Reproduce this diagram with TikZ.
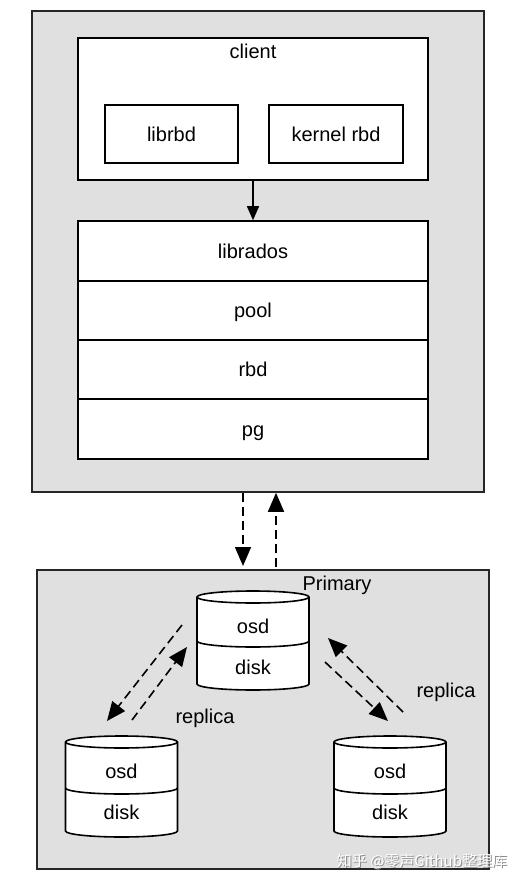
\documentclass[tikz,border=0pt]{standalone}
\usepackage{fontspec}
\setmainfont{Liberation Sans}
\newfontfamily\cjkfont{Noto Sans CJK SC}
\usetikzlibrary{arrows.meta}
\definecolor{boxgray}{HTML}{E0E0E0}
\newcommand\dbcylinder[4]{% cx, top centre y, divider centre y, bottom centre y
  \filldraw[cylline] (#1-56,#2) -- (#1-56,#4) arc[start angle=180,end angle=360,x radius=56pt,y radius=6pt]
     -- (#1+56,#2) arc[start angle=0,end angle=180,x radius=56pt,y radius=6pt] -- cycle;
  \draw[cylline] (#1-56,#2) arc[start angle=180,end angle=360,x radius=56pt,y radius=6pt];
  \draw[cylline] (#1-56,#3) arc[start angle=180,end angle=360,x radius=56pt,y radius=6pt];
}
\begin{document}
\begin{tikzpicture}[x=1pt,y=-1pt,
  every node/.style={font=\fontsize{20}{24}\selectfont, inner sep=0pt, text height=14.5pt, text depth=0.5pt},
  panel/.style={draw=black!85, line width=1.6pt, fill=boxgray},
  whitebox/.style={draw=black, line width=1.6pt, fill=white},
  cylline/.style={draw=black, line width=1.6pt, fill=white},
  solidarrow/.style={-{Triangle[length=14pt,width=12pt]}, line width=1.5pt},
  dasharrow/.style={dash pattern=on 9pt off 5pt, -{Triangle[length=19pt,width=16pt]}, line width=1.6pt},
  watermark/.style={font=\cjkfont\fontsize{15}{18}\selectfont, text height=11pt, text depth=1pt}
]
\useasboundingbox (0,0) rectangle (523,888);
\fill[white] (0,0) rectangle (523,888);

% upper panel
\node[panel, minimum width=452pt, minimum height=481pt] (top) at (258,251.5) {};
\node[whitebox, minimum width=350pt, minimum height=142pt] (client) at (253,109) {};
\node (clientlbl) at (253,52) {client};
\node[whitebox, minimum width=133pt, minimum height=58pt] (librbd) at (171.5,134) {librbd};
\node[whitebox, minimum width=134pt, minimum height=58pt] (krbd) at (336,134) {kernel rbd};

\node[whitebox, minimum width=350pt, minimum height=60pt] (librados) at (253,251) {librados};
\node[whitebox, minimum width=350pt, minimum height=59pt] (pool) at (253,310.5) {pool};
\node[whitebox, minimum width=350pt, minimum height=59pt] (rbd) at (253,369.5) {rbd};
\node[whitebox, minimum width=350pt, minimum height=60pt] (pg) at (253,429) {pg};
\draw[solidarrow] (client.south) -- (librados.north);

% lower panel
\node[panel, minimum width=452pt, minimum height=299pt] (bottom) at (263,719.5) {};
\node (primary) at (337,583) {Primary};

\dbcylinder{253}{597}{641}{684}
\node (posd) at (253,626) {osd};
\node (pdisk) at (253,667) {disk};

\dbcylinder{121.5}{742}{788}{831}
\node (losd) at (121.5,771) {osd};
\node (ldisk) at (121.5,812) {disk};

\dbcylinder{390}{742}{788}{831}
\node (rosd) at (390,771) {osd};
\node (rdisk) at (390,812) {disk};

% vertical arrows between panels
\coordinate (downstart) at (top.south -| 243,0);
\coordinate (downend) at (243,566);
\coordinate (upstart) at (276,567);
\coordinate (upend) at (top.south -| 276,0);
\draw[dasharrow] (downstart) -- (downend);
\draw[dasharrow] (upstart) -- (upend);

% replica arrows left
\coordinate (la1) at (182,625);
\coordinate (la2) at (107,721);
\coordinate (lb1) at (132,720);
\coordinate (lb2) at (187,647);
\draw[dasharrow] (la1) -- (la2);
\draw[dasharrow] (lb1) -- (lb2);
\node (lrep) at (205,716) {replica};

% replica arrows right
\coordinate (ra1) at (325,662);
\coordinate (ra2) at (388,721);
\coordinate (rb1) at (403,712);
\coordinate (rb2) at (328,638);
\draw[dasharrow] (ra1) -- (ra2);
\draw[dasharrow] (rb1) -- (rb2);
\node (rrep) at (446,690) {replica};

% watermark
\node[watermark, text=black!45] (wmshadow) at (423,862) {知乎 @零声Github整理库};
\node[watermark, text=white] (wm) at (422,861) {知乎 @零声Github整理库};
\end{tikzpicture}
\end{document}
